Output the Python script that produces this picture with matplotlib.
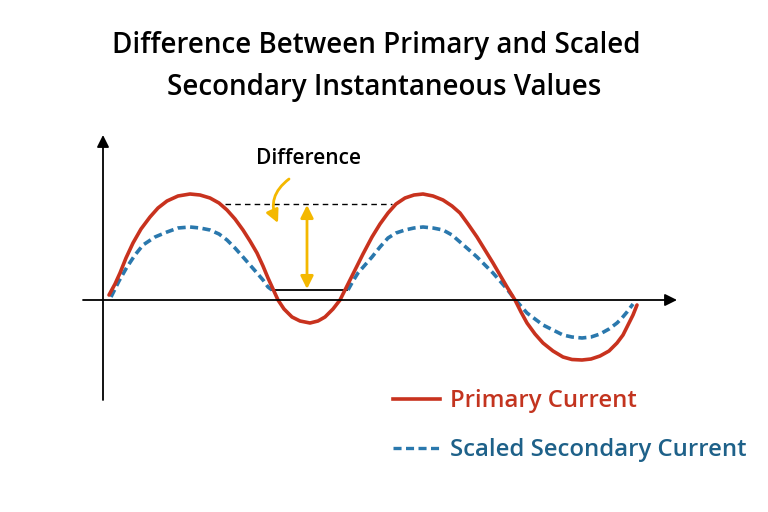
#Sketch of primary current vs scaled secondary current (CT saturation style)
import matplotlib
matplotlib.use("Agg")
import matplotlib.pyplot as plt
import numpy as np

plt.rcParams['font.family'] = ['Open Sans', 'DejaVu Sans']
plt.rcParams['lines.scale_dashes'] = False

#Values: time in arbitrary units, current in per unit
t_primary = [0.0, 0.6, 1.1, 1.7, 2.4, 3.2, 4.1, 4.9, 5.8, 6.9, 8.1, 9.1, 10.1,
             11.0, 11.8, 12.6, 13.4, 14.1, 14.8, 15.4, 15.9, 16.4, 16.9, 17.5,
             18.3, 19.1, 20.1, 20.9, 21.6, 22.4, 23.1, 23.8, 24.6, 25.4, 26.3,
             27.1, 27.9, 28.7, 29.6, 30.5, 31.4, 32.4, 33.4, 34.3, 35.1, 35.9,
             36.8, 37.6, 38.4, 39.1, 39.8, 40.6, 41.2, 41.8, 42.6, 43.4, 44.4,
             45.4, 46.3, 47.3, 48.2, 49.1, 50.0, 50.8, 51.4, 51.9, 52.4, 52.8]
i_primary = [0.05, 0.16, 0.27, 0.42, 0.57, 0.71, 0.83, 0.92, 0.99, 1.04, 1.06,
             1.05, 1.02, 0.97, 0.90, 0.81, 0.70, 0.59, 0.47, 0.34, 0.22, 0.11,
             0.00, -0.09, -0.17, -0.21, -0.23, -0.21, -0.17, -0.09, 0.00, 0.14,
             0.30, 0.46, 0.63, 0.76, 0.87, 0.96, 1.02, 1.05, 1.06, 1.04, 1.00,
             0.94, 0.87, 0.76, 0.63, 0.50, 0.37, 0.25, 0.13, 0.00, -0.12, -0.23,
             -0.34, -0.43, -0.51, -0.57, -0.595, -0.60, -0.59, -0.56, -0.51,
             -0.43, -0.35, -0.25, -0.15, -0.05]

t_secondary = [0.2, 1.0, 1.8, 2.6, 3.4, 4.6, 5.8, 6.9, 8.1, 9.1, 10.1, 11.0,
               11.8, 12.6, 13.4, 14.1, 14.8, 15.4, 15.9, 16.3, np.nan,
               23.9, 24.4, 24.9, 25.6, 26.3, 27.1, 27.9, 28.7, 29.6, 30.5,
               31.4, 32.4, 33.4, 34.3, 35.1, 35.9, 36.8, 37.6, 38.4, 39.1,
               39.8, 40.4, 41.1, 41.8, 42.6, 43.4, 44.4, 45.4, 46.3, 47.3,
               48.2, 49.1, 50.0, 50.8, 51.3, 51.8, 52.4]
i_secondary = [0.03, 0.19, 0.33, 0.45, 0.55, 0.63, 0.68, 0.72, 0.73, 0.72,
               0.70, 0.66, 0.60, 0.52, 0.43, 0.35, 0.27, 0.20, 0.13, 0.10,
               np.nan, 0.10, 0.19, 0.27, 0.35, 0.43, 0.53, 0.62, 0.67, 0.70,
               0.72, 0.73, 0.72, 0.70, 0.65, 0.58, 0.51, 0.43, 0.35, 0.27,
               0.19, 0.11, 0.03, -0.05, -0.13, -0.19, -0.25, -0.30, -0.35,
               -0.37, -0.38, -0.37, -0.34, -0.29, -0.23, -0.18, -0.12, -0.04]

#Flat part of the secondary and the reference level of the peak
flat_t = [16.3, 23.8]
flat_i = [0.10, 0.10]
peak_ref_t = [11.6, 28.3]
peak_ref_i = [0.96, 0.96]

red = '#C8321E'
blue = '#2A78AD'
gold = '#F4B800'

fig = plt.figure(figsize=(7.68, 5.12), dpi=100, facecolor='white')
ax = fig.add_axes([0, 0, 1, 1])
ax.set_xlim(-10.9, 65.9)
ax.set_ylim(-2.12, 3.00)
ax.axis('off')

#Axes with arrows
ax.annotate('', xy=(56.8, 0), xytext=(-2.6, 0),
            arrowprops=dict(arrowstyle='-|>', color='black', lw=1.3,
                            mutation_scale=18, shrinkA=0, shrinkB=0))
ax.annotate('', xy=(-0.6, 1.65), xytext=(-0.6, -1.0),
            arrowprops=dict(arrowstyle='-|>', color='black', lw=1.3,
                            mutation_scale=18, shrinkA=0, shrinkB=0))

ax.plot(peak_ref_t, peak_ref_i, color='black', lw=1.0, dashes=(4, 3))
ax.plot(flat_t, flat_i, color='black', lw=1.3)

ax.plot(t_secondary, i_secondary, color=blue, lw=2.6, dashes=(5.8, 3.2),
        solid_capstyle='butt')
ax.plot(t_primary, i_primary, color=red, lw=2.6, solid_capstyle='round',
        solid_joinstyle='round')

#Difference markers
ax.annotate('', xy=(19.8, 0.11), xytext=(19.8, 0.95),
            arrowprops=dict(arrowstyle='<|-|>', color=gold, lw=2.0,
                            mutation_scale=19, shrinkA=0, shrinkB=0))
ax.annotate('', xy=(16.9, 0.77), xytext=(18.0, 1.21),
            arrowprops=dict(arrowstyle='-|>', color=gold, lw=2.0,
                            mutation_scale=19, shrinkA=0, shrinkB=0,
                            connectionstyle='arc3,rad=0.4'))
ax.text(19.9, 1.42, 'Difference', fontsize=15, fontweight='semibold',
        ha='center', va='center', color='black')

#Legend drawn by hand
ax.plot([28.4, 33.1], [-0.99, -0.99], color=red, lw=2.6)
ax.text(34.1, -1.01, 'Primary Current', fontsize=17.2, fontweight='semibold',
        color='#C3341F', ha='left', va='center')
ax.plot([28.4, 33.1], [-1.48, -1.48], color=blue, lw=2.4, dashes=(5.8, 3.2))
ax.text(34.1, -1.50, 'Scaled Secondary Current', fontsize=17.2,
        fontweight='semibold', color='#1E6189', ha='left', va='center')

#Title
fig.text(376 / 768, 1 - 53 / 512, 'Difference Between Primary and Scaled',
         fontsize=20, fontweight='semibold', ha='center', va='baseline')
fig.text(384 / 768, 1 - 95 / 512, 'Secondary Instantaneous Values',
         fontsize=20, fontweight='semibold', ha='center', va='baseline')

fig.savefig('out.png', dpi=100, facecolor='white')
